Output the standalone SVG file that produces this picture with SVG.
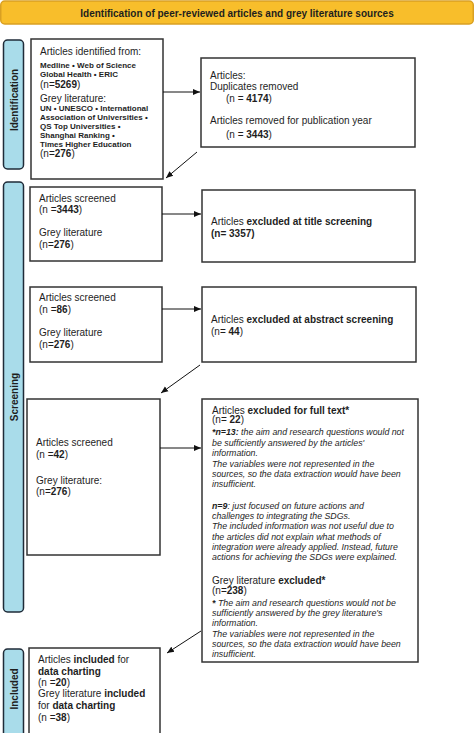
<svg xmlns="http://www.w3.org/2000/svg" width="474" height="733" viewBox="0 0 474 733">
<style>
text{font-family:"Liberation Sans",Arial,sans-serif;fill:#1e1e1e;}
.t{font-size:10px;}
.s{font-size:8px;font-weight:bold;}
.i{font-size:8.8px;font-style:italic;}
.b{font-weight:bold;}
.box{fill:#fff;stroke:#333;stroke-width:1.5;}
.side{fill:#a9dcea;stroke:#1f2b38;stroke-width:1.5;}
.lab{font-size:10px;font-weight:bold;text-anchor:middle;}
.con line{stroke:#111;stroke-width:1;marker-end:url(#ah);}
</style>
<defs>
<marker id="ah" markerWidth="8" markerHeight="8" refX="7" refY="4" orient="auto" markerUnits="userSpaceOnUse">
<path d="M0,1 L7,4 L0,7 Z" fill="#111"/>
</marker>
</defs>
<rect width="474" height="733" fill="#fff"/>

<g id="header">
<rect x="0.75" y="1" width="472.5" height="23" rx="4" fill="#f8be2b" stroke="#d9a023" stroke-width="1.5"/>
<text x="237" y="16.5" text-anchor="middle" style="font-size:10px;font-weight:bold">Identification of peer-reviewed articles and grey literature sources</text>
</g>

<g id="side-identification">
<rect class="side" x="3.5" y="40" width="20" height="129" rx="4"/>
<text class="lab" transform="translate(18,100) rotate(-90)">Identification</text>
</g>
<g id="side-screening">
<rect class="side" x="3.5" y="182" width="20" height="430" rx="4"/>
<text class="lab" transform="translate(18,397) rotate(-90)">Screening</text>
</g>
<g id="side-included">
<rect class="side" x="3.5" y="649" width="20" height="90" rx="4"/>
<text class="lab" transform="translate(18,689) rotate(-90)">Included</text>
</g>

<g id="identified">
<rect class="box" x="31" y="39" width="132" height="140"/>
<text class="t" x="40" y="54.5">Articles identified from:</text>
<text class="s" x="40" y="68">Medline • Web of Science</text>
<text class="s" x="40" y="77">Global Health • ERIC</text>
<text class="t" x="40" y="88">(n=<tspan class="b">5269</tspan>)</text>
<text class="t" x="40" y="102">Grey literature:</text>
<text class="s" x="40" y="111">UN • UNESCO • International</text>
<text class="s" x="40" y="120">Association of Universities •</text>
<text class="s" x="40" y="129">QS Top Universities •</text>
<text class="s" x="40" y="137.5">Shanghai Ranking •</text>
<text class="s" x="40" y="146.5">Times Higher Education</text>
<text class="t" x="40" y="156.5">(n=<tspan class="b">276</tspan>)</text>
</g>

<g id="removed">
<rect class="box" x="201" y="58" width="214" height="89"/>
<text class="t" x="210" y="78.5">Articles:</text>
<text class="t" x="210" y="89.5">Duplicates removed</text>
<text class="t" x="226" y="101.5">(n = <tspan class="b">4174</tspan>)</text>
<text class="t" x="210" y="123.5">Articles removed for publication year</text>
<text class="t" x="226" y="137.5">(n = <tspan class="b">3443</tspan>)</text>
</g>

<g id="screened1">
<rect class="box" x="30" y="187" width="132" height="74"/>
<text class="t" x="39" y="201.5">Articles screened</text>
<text class="t" x="39" y="212.5">(n =<tspan class="b">3443</tspan>)</text>
<text class="t" x="39" y="235.5">Grey literature</text>
<text class="t" x="39" y="248">(n=<tspan class="b">276</tspan>)</text>
</g>

<g id="excluded-title">
<rect class="box" x="202" y="190" width="213" height="72"/>
<text class="t" x="211" y="224.5">Articles <tspan class="b">excluded at title screening</tspan></text>
<text class="t b" x="211" y="236.5">(n= 3357)</text>
</g>

<g id="screened2">
<rect class="box" x="30" y="287" width="132" height="75"/>
<text class="t" x="39" y="300.5">Articles screened</text>
<text class="t" x="39" y="312.5">(n =<tspan class="b">86</tspan>)</text>
<text class="t" x="39" y="335.5">Grey literature</text>
<text class="t" x="39" y="347.5">(n=<tspan class="b">276</tspan>)</text>
</g>

<g id="excluded-abstract">
<rect class="box" x="202" y="287" width="214" height="75"/>
<text class="t" x="211" y="322.5">Articles <tspan class="b">excluded at abstract screening</tspan></text>
<text class="t" x="211" y="335">(n= <tspan class="b">44</tspan>)</text>
</g>

<g id="screened3">
<rect class="box" x="27" y="399" width="133" height="156"/>
<text class="t" x="36" y="445.5">Articles screened</text>
<text class="t" x="36" y="457.5">(n =<tspan class="b">42</tspan>)</text>
<text class="t" x="36" y="483.5">Grey literature:</text>
<text class="t" x="36" y="494.5">(n=<tspan class="b">276</tspan>)</text>
</g>

<g id="excluded-fulltext">
<rect class="box" x="202" y="399" width="216" height="263"/>
<text class="t" x="212" y="413.5">Articles <tspan class="b">excluded for full text*</tspan></text>
<text class="t" x="212" y="423">(n= <tspan class="b">22</tspan>)</text>
<text class="i" x="212" y="435"><tspan class="b">*n=13:</tspan> the aim and research questions would not</text>
<text class="i" x="212" y="446">be sufficiently answered by the articles'</text>
<text class="i" x="212" y="456">information.</text>
<text class="i" x="212" y="467">The variables were not represented in the</text>
<text class="i" x="212" y="477">sources, so the data extraction would have been</text>
<text class="i" x="212" y="487">insufficient.</text>
<text class="i" x="212" y="509"><tspan class="b">n=9</tspan>: just focused on future actions and</text>
<text class="i" x="212" y="519">challenges to integrating the SDGs.</text>
<text class="i" x="212" y="529">The included information was not useful due to</text>
<text class="i" x="212" y="539.5">the articles did not explain what methods of</text>
<text class="i" x="212" y="550">integration were already applied. Instead, future</text>
<text class="i" x="212" y="560">actions for achieving the SDGs were explained.</text>
<text class="t" x="212" y="583.5">Grey literature <tspan class="b">excluded*</tspan></text>
<text class="t" x="212" y="593.5">(n=<tspan class="b">238</tspan>)</text>
<text class="i" x="212" y="606"><tspan class="b">*</tspan> The aim and research questions would not be</text>
<text class="i" x="212" y="616">sufficiently answered by the grey literature's</text>
<text class="i" x="212" y="626">information.</text>
<text class="i" x="212" y="636.5">The variables were not represented in the</text>
<text class="i" x="212" y="647">sources, so the data extraction would have been</text>
<text class="i" x="212" y="656.5">insufficient.</text>
</g>

<g id="included">
<rect class="box" x="29" y="648" width="131" height="90"/>
<text class="t" x="38" y="662.5">Articles <tspan class="b">included</tspan> for</text>
<text class="t b" x="38" y="674.5">data charting</text>
<text class="t" x="38" y="685.5">(n =<tspan class="b">20</tspan>)</text>
<text class="t" x="38" y="696.5">Grey literature <tspan class="b">included</tspan></text>
<text class="t" x="38" y="708.5">for <tspan class="b">data charting</tspan></text>
<text class="t" x="38" y="720.5">(n =<tspan class="b">38</tspan>)</text>
</g>

<g id="connectors" class="con">
<line x1="163" y1="92" x2="200" y2="92"/>
<line x1="197" y1="152" x2="166" y2="178"/>
<line x1="162" y1="214" x2="201" y2="214"/>
<line x1="162" y1="309" x2="201" y2="309"/>
<line x1="200" y1="365" x2="161" y2="393"/>
<line x1="160" y1="448" x2="201" y2="448"/>
<line x1="201" y1="631" x2="167" y2="653"/>
</g>
</svg>
